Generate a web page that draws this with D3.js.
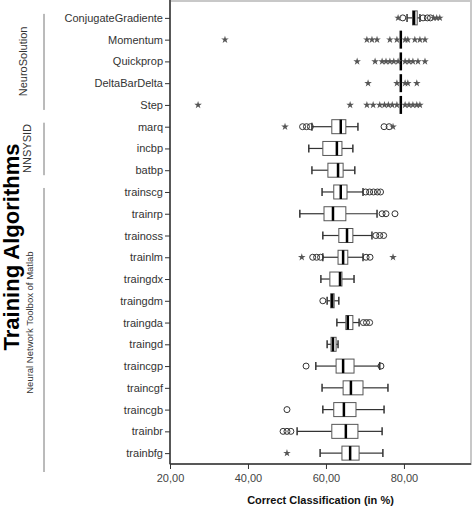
<!DOCTYPE html>
<html>
<head>
<meta charset="utf-8">
<script src="https://cdn.jsdelivr.net/npm/d3@7"></script>
<style>
  body { margin: 0; background: #fff; }
  svg text { font-family: "Liberation Sans", Arial, sans-serif; }
</style>
</head>
<body>
<svg id="chart" width="474" height="509"></svg>
<script>
const categories = ["ConjugateGradiente", "Momentum", "Quickprop", "DeltaBarDelta", "Step",
  "marq", "incbp", "batbp",
  "trainscg", "trainrp", "trainoss", "trainlm", "traingdx", "traingdm", "traingda",
  "traingd", "traincgp", "traincgf", "traincgb", "trainbr", "trainbfg"]
const groupNames = ["NeuroSolution", "NNSYSID", "Neural Network Toolbox of Matlab"]
const groupSizes = [5, 3, 13]

const whiskerLow  = [80.8, 79.2, 79.2, 79.2, 79.2, 56.4, 55.6, 56.4, 59.0, 53.3, 59.2, 59.2, 58.7, 60.3, 62.8, 60.3, 57.4, 59.0, 59.2, 52.6, 58.5]
const q1          = [82.2, 79.2, 79.2, 79.2, 79.2, 61.5, 59.2, 60.5, 62.0, 59.5, 63.3, 63.1, 61.0, 61.2, 65.1, 61.3, 62.6, 64.4, 62.0, 61.5, 64.1]
const median      = [82.6, 79.2, 79.2, 79.2, 79.2, 63.8, 62.8, 63.1, 63.8, 61.8, 65.4, 64.4, 63.6, 61.6, 65.6, 61.8, 64.4, 66.4, 64.6, 65.1, 66.2]
const q3          = [83.4, 79.2, 79.2, 79.2, 79.2, 65.1, 64.1, 64.4, 65.4, 65.1, 66.9, 65.6, 64.1, 62.1, 66.9, 62.6, 67.2, 69.5, 67.7, 68.2, 68.5]
const whiskerHigh = [84.1, 79.2, 79.2, 79.2, 79.2, 68.2, 66.9, 67.4, 69.5, 73.1, 71.8, 69.5, 67.2, 63.3, 68.5, 63.1, 73.8, 75.9, 74.9, 74.4, 74.6]

const outliers = [
  [79.7, 84.9, 86.0, 86.8], [], [], [], [],
  [54.0, 55.0, 56.0, 74.9, 76.2], [], [],
  [70.2, 71.2, 72.2, 73.2, 74.0], [74.4, 75.4, 77.7], [72.8, 73.8, 74.8],
  [56.6, 57.6, 58.6, 70.3, 71.3], [], [59.2], [69.6, 70.4, 71.2], [],
  [54.9, 74.1], [], [50.0], [49.0, 50.0, 51.0], []
]
const extremes = [
  [78.5, 87.6, 88.4, 89.2],
  [34.1, 70.5, 71.8, 73.1, 76.4, 78.2, 80.3, 81.0, 82.8, 84.1, 85.4],
  [68.0, 72.6, 74.4, 75.4, 76.4, 77.4, 78.5, 80.3, 81.3, 82.3, 83.6, 85.4],
  [70.8, 78.2, 80.3, 81.0, 83.3],
  [27.2, 66.2, 70.5, 72.1, 73.8, 75.0, 76.0, 77.0, 78.2, 80.3, 81.3, 82.3, 83.3, 84.1],
  [49.5, 77.2], [], [],
  [], [], [], [53.8, 77.2], [], [], [], [],
  [], [], [], [], [50.0]
]
const xTicks = [20, 40, 60, 80]

const svg = d3.select("#chart")
const mLeft = 170, mRight = 471, mTop = 1, mBottom = 464

const x = d3.scaleLinear().domain([20, 97.2]).range([mLeft, mRight])
const y = d3.scalePoint().domain(categories).range([7, mBottom]).padding(0.5)
const boxH = 14, capH = 8

// plot frame
svg.append("rect")
  .attr("x", mLeft).attr("y", mTop)
  .attr("width", mRight - mLeft).attr("height", mBottom - mTop)
  .attr("fill", "none").attr("stroke", "#c8c8c8").attr("stroke-width", 2)

const rows = categories.map((c, i) => ({
  c, lo: whiskerLow[i], q1: q1[i], med: median[i], q3: q3[i], hi: whiskerHigh[i],
  out: outliers[i], ext: extremes[i]
}))

const g = svg.append("g").selectAll("g").data(rows).enter().append("g")
  .attr("transform", d => `translate(0,${y(d.c)})`)

// whiskers
g.append("line").attr("x1", d => x(d.lo)).attr("x2", d => x(d.q1))
  .attr("stroke", "#333").attr("stroke-width", 1.2)
g.append("line").attr("x1", d => x(d.q3)).attr("x2", d => x(d.hi))
  .attr("stroke", "#333").attr("stroke-width", 1.2)
g.filter(d => d.hi > d.lo).selectAll(".cap").data(d => [d.lo, d.hi]).enter().append("line")
  .attr("x1", v => x(v)).attr("x2", v => x(v))
  .attr("y1", -capH / 2).attr("y2", capH / 2)
  .attr("stroke", "#333").attr("stroke-width", 1.5)
// box
g.filter(d => d.q3 > d.q1).append("rect")
  .attr("x", d => x(d.q1)).attr("y", -boxH / 2)
  .attr("width", d => x(d.q3) - x(d.q1)).attr("height", boxH)
  .attr("fill", "#fff").attr("stroke", "#555").attr("stroke-width", 1)
// median
g.append("line")
  .attr("x1", d => x(d.med)).attr("x2", d => x(d.med))
  .attr("y1", d => d.q3 > d.q1 ? -boxH / 2 : -9).attr("y2", d => d.q3 > d.q1 ? boxH / 2 : 9)
  .attr("stroke", "#000").attr("stroke-width", 2.5)
// outliers
g.selectAll(".out").data(d => d.out).enter().append("circle")
  .attr("cx", v => x(v)).attr("cy", 0).attr("r", 3)
  .attr("fill", "none").attr("stroke", "#333").attr("stroke-width", 1)
// extremes
const star = d3.symbol().type(d3.symbolStar).size(18)
g.selectAll(".ext").data(d => d.ext).enter().append("path")
  .attr("d", star)
  .attr("transform", v => `translate(${x(v)},0)`)
  .attr("fill", "#555")

// axes
const yAxis = svg.append("g").attr("transform", `translate(${mLeft},0)`)
  .call(d3.axisLeft(y).tickSize(5).tickPadding(2))
yAxis.select(".domain").attr("d", `M0,0V${mBottom}`).attr("stroke", "#333").attr("stroke-width", 1.5)
yAxis.selectAll("text").attr("font-size", 11).attr("fill", "#333")
  .attr("font-family", "'Liberation Sans', Arial, sans-serif")
yAxis.selectAll(".tick line").attr("stroke", "#333")

const xAxis = svg.append("g").attr("transform", `translate(0,${mBottom})`)
  .call(d3.axisBottom(x).tickValues(xTicks).tickSize(5).tickPadding(5)
    .tickFormat(v => d3.format(".2f")(v).replace(".", ",")))
xAxis.select(".domain").attr("d", `M${mLeft},0H${mRight}`).attr("stroke", "#333").attr("stroke-width", 1.5)
xAxis.selectAll("text").attr("font-size", 11).attr("fill", "#444")
  .attr("font-family", "'Liberation Sans', Arial, sans-serif")
xAxis.selectAll(".tick line").attr("stroke", "#333")

svg.append("text").attr("x", (mLeft + mRight) / 2).attr("y", 504)
  .attr("text-anchor", "middle").attr("font-size", 11).attr("font-weight", "bold")
  .attr("fill", "#111").text("Correct Classification (in %)")

// group brackets
let start = 0
groupNames.forEach((name, gi) => {
  const members = categories.slice(start, start + groupSizes[gi])
  start += groupSizes[gi]
  const c0 = y(members[0]), c1 = y(members[members.length - 1])
  const y0 = Math.max(0, c0 - 4)
  const y1 = gi === groupNames.length - 1 ? mBottom + 8 : c1 + 5
  svg.append("line").attr("x1", 44).attr("x2", 44).attr("y1", y0).attr("y2", y1)
    .attr("stroke", "#777").attr("stroke-width", 1)
  const small = name.length > 20
  svg.append("text")
    .attr("transform", `translate(${small ? 33 : (gi === 0 ? 27 : 31)},${(c0 + c1) / 2}) rotate(-90)`)
    .attr("text-anchor", "middle").attr("font-size", small ? 9.5 : 11)
    .attr("fill", "#333").text(name)
})

svg.append("text").attr("transform", `translate(19,247) rotate(-90)`)
  .attr("text-anchor", "middle").attr("font-size", 22).attr("font-weight", "bold")
  .attr("fill", "#000").text("Training Algorithms")
</script>
</body>
</html>
